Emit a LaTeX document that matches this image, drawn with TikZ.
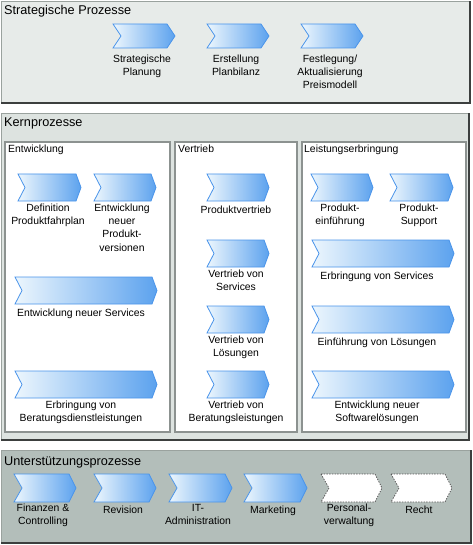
\documentclass[tikz,border=0pt]{standalone}
\usepackage{fontspec}
\setmainfont{Liberation Sans}
\definecolor{stratfill}{HTML}{E7EBE9}
\definecolor{kernfill}{HTML}{DDE3E0}
\definecolor{unterfill}{HTML}{B3BEBA}
\definecolor{boxlight}{HTML}{9AA29E}
\definecolor{boxdark}{HTML}{3C3F3E}
\definecolor{subborder}{HTML}{8C9290}
\definecolor{chevlight}{HTML}{ECF6FD}
\definecolor{chevdark}{HTML}{5CA2EE}
\definecolor{chevborder}{HTML}{4A94EA}
\definecolor{dashborder}{HTML}{555555}
\tikzset{
  mainbox/.style={fill=#1, draw=boxlight, line width=0.8pt},
  shadowline/.style={draw=boxdark, line width=1.2pt},
  subbox/.style={fill=white, draw=subborder, line width=1.4pt},
  chevfill/.style={left color=chevlight, right color=chevdark, draw=chevborder, line width=0.8pt},
  chevdash/.style={fill=white, draw=dashborder, line width=0.7pt, dash pattern=on 1.5pt off 1.2pt},
  bigtitle/.style={anchor=base west, inner sep=0pt, font=\fontsize{12.7}{15}\selectfont},
  subtitle/.style={anchor=base west, inner sep=0pt, font=\fontsize{10.4}{13}\selectfont},
  lbl/.style={anchor=north, yshift=9.24pt, inner sep=0pt, align=center, font=\fontsize{10.4}{13.2}\selectfont, execute at begin node=\strut},
}
% #1 style, #2 x1, #3 y1, #4 x2, #5 y2, #6 notch, #7 point
\newcommand\mychev[7]{%
  \path[#1] (#2,#3) -- ({#4-#7},#3) -- (#4,{(#3+#5)/2}) -- ({#4-#7},#5) -- (#2,#5) -- ({#2+#6},{(#3+#5)/2}) -- cycle;}
\begin{document}
\begin{tikzpicture}[x=1pt,y=-1pt]
\useasboundingbox (0,0) rectangle (472,545);
% main boxes
\path[mainbox=stratfill] (1,1) rectangle (470,103);
\draw[shadowline] (1,103) -- (470,103) -- (470,1);
\path[mainbox=kernfill] (1,113) rectangle (469,440);
\draw[shadowline] (1,440) -- (469,440) -- (469,113);
\path[mainbox=unterfill] (1,450) rectangle (471,543);
\draw[shadowline] (1,543) -- (471,543) -- (471,450);
% sub boxes
\path[subbox] (5,142) rectangle (170,432);
\path[subbox] (175,142) rectangle (297,432);
\path[subbox] (302,142) rectangle (466,432);
% titles
\node[bigtitle] (tstrat) at (4,15) {Strategische Prozesse};
\node[bigtitle] (tkern) at (4,127) {Kernprozesse};
\node[bigtitle] (tunter) at (4,465) {Unterstützungsprozesse};
\node[subtitle] (tentw) at (8,153) {Entwicklung};
\node[subtitle] (tvert) at (178,153) {Vertrieb};
\node[subtitle] (tleist) at (304,153) {Leistungserbringung};
% strategic chevrons
\mychev{chevfill}{113}{24}{175}{48}{8}{8}
\mychev{chevfill}{207}{24}{269}{48}{8}{8}
\mychev{chevfill}{301}{24}{363}{48}{8}{8}
\node[lbl] (s1) at (142,64) {Strategische\\Planung};
\node[lbl] (s2) at (236,64) {Erstellung\\Planbilanz};
\node[lbl] (s3) at (330,64) {Festlegung/\\Aktualisierung\\Preismodell};
% Entwicklung
\mychev{chevfill}{18}{174}{81}{201}{7}{5}
\mychev{chevfill}{94}{174}{156}{201}{7}{5}
\mychev{chevfill}{15}{277}{157}{304}{7}{5}
\mychev{chevfill}{15}{371}{157}{398}{7}{5}
\node[lbl] (e1) at (48,213) {Definition\\Produktfahrplan};
\node[lbl] (e2) at (122,213) {Entwicklung\\neuer\\Produkt-\\versionen};
\node[lbl] (e3) at (81,316) {Entwicklung neuer Services};
\node[lbl] (e4) at (81,410) {Erbringung von\\Beratungsdienstleistungen};
% Vertrieb
\mychev{chevfill}{207}{174}{269}{201}{7}{5}
\mychev{chevfill}{207}{240}{269}{267}{7}{5}
\mychev{chevfill}{207}{306}{269}{333}{7}{5}
\mychev{chevfill}{207}{371}{269}{398}{7}{5}
\node[lbl] (v1) at (236,213) {Produktvertrieb};
\node[lbl] (v2) at (236,279) {Vertrieb von\\Services};
\node[lbl] (v3) at (236,345) {Vertrieb von\\Lösungen};
\node[lbl] (v4) at (236,410) {Vertrieb von\\Beratungsleistungen};
% Leistungserbringung
\mychev{chevfill}{311}{174}{373}{201}{7}{5}
\mychev{chevfill}{390}{174}{453}{201}{7}{5}
\mychev{chevfill}{312}{240}{454}{267}{7}{5}
\mychev{chevfill}{312}{306}{454}{333}{7}{5}
\mychev{chevfill}{312}{371}{454}{398}{7}{5}
\node[lbl] (l1) at (340,213) {Produkt-\\einführung};
\node[lbl] (l2) at (419,213) {Produkt-\\Support};
\node[lbl] (l3) at (377,279) {Erbringung von Services};
\node[lbl] (l4) at (377,345) {Einführung von Lösungen};
\node[lbl] (l5) at (377,410) {Entwicklung neuer\\Softwarelösungen};
% Unterstuetzung
\mychev{chevfill}{14}{474}{76}{502}{8}{7}
\mychev{chevfill}{94}{474}{156}{502}{8}{7}
\mychev{chevfill}{169}{474}{232}{502}{8}{7}
\mychev{chevfill}{244}{474}{307}{502}{8}{7}
\mychev{chevdash}{321}{474}{382}{502}{8}{7}
\mychev{chevdash}{391}{474}{452}{502}{8}{7}
\node[lbl] (u1) at (43,513) {Finanzen \&\\Controlling};
\node[lbl] (u2) at (123,513) {Revision};
\node[lbl] (u3) at (198,513) {IT-\\Administration};
\node[lbl] (u4) at (273,513) {Marketing};
\node[lbl] (u5) at (349,513) {Personal-\\verwaltung};
\node[lbl] (u6) at (419,513) {Recht};
\end{tikzpicture}
\end{document}
